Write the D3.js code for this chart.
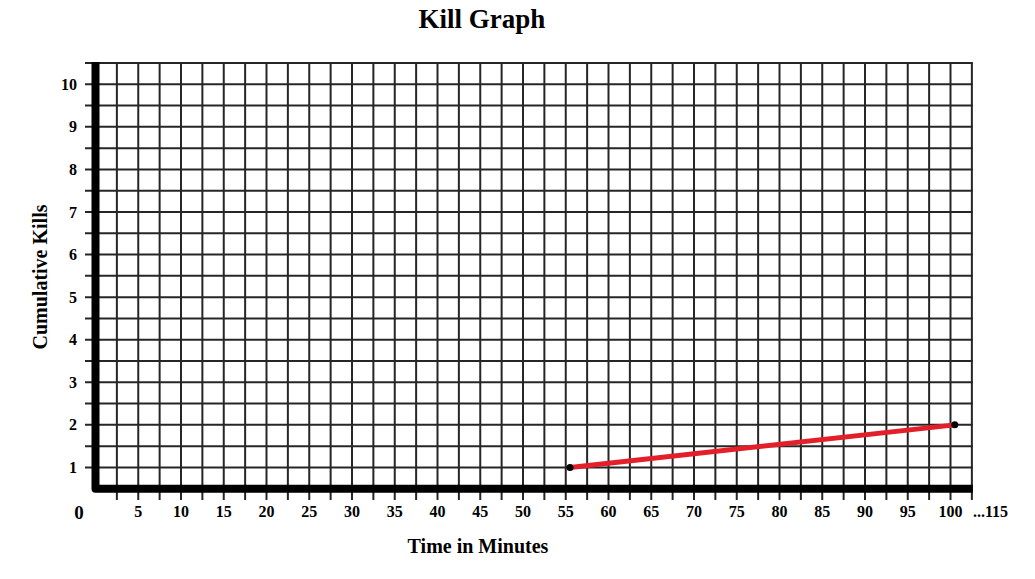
<!DOCTYPE html>
<html>
<head>
<meta charset="utf-8">
<script src="https://cdn.jsdelivr.net/npm/d3@7"></script>
<style>
  html, body { margin: 0; padding: 0; background: #fff; }
  svg text { font-family: "Liberation Serif", "Times New Roman", serif; font-weight: bold; fill: #000; }
</style>
</head>
<body>
<svg id="chart" width="1035" height="579"></svg>
<script>
// Data
const killTimes = [55.5, 100.5];      // minutes
const killCounts = [1, 2];            // cumulative kills
const xTickValues = [5, 10, 15, 20, 25, 30, 35, 40, 45, 50, 55, 60, 65, 70, 75, 80, 85, 90, 95, 100];
const yTickValues = [1, 2, 3, 4, 5, 6, 7, 8, 9, 10];
const xGridValues = d3.range(2.5, 102.6, 2.5);
const yGridValues = d3.range(1, 10.6, 0.5);

const svg = d3.select("#chart");
const x = d3.scaleLinear().domain([0, 100]).range([95.5, 950.5]);
const y = d3.scaleLinear().domain([0, 10]).range([510, 84.3]);

// Title
svg.append("text").attr("x", 482).attr("y", 28).attr("text-anchor", "middle")
  .style("font-size", "27px").text("Kill Graph");

// Grid
const grid = svg.append("g");
grid.selectAll("line.v").data(xGridValues).join("line").attr("class", "v")
  .attr("x1", d => x(d)).attr("x2", d => x(d))
  .attr("y1", y(10.5)).attr("y2", 500)
  .attr("stroke", "#262626").attr("stroke-width", 2);
grid.selectAll("line.h").data(yGridValues).join("line").attr("class", "h")
  .attr("y1", d => y(d)).attr("y2", d => y(d))
  .attr("x1", 85).attr("x2", x(102.5) + 1)
  .attr("stroke", "#262626").attr("stroke-width", 2);

// Axes (thick)
const axisPath = d3.path();
axisPath.moveTo(x(0), y(10.5) - 1);
axisPath.lineTo(x(0), y(0.5));
axisPath.lineTo(x(102.5) + 1, y(0.5));
svg.append("path").attr("d", axisPath.toString()).attr("fill", "none")
  .attr("stroke", "#000").attr("stroke-width", 8).attr("stroke-linejoin", "round");

// Y tick labels
svg.selectAll("text.yt").data(yTickValues).join("text").attr("class", "yt")
  .attr("x", 77).attr("y", d => y(d) + 5.5).attr("text-anchor", "end")
  .style("font-size", "16px").text(d => d);

// X tick labels
svg.selectAll("text.xt").data(xTickValues).join("text").attr("class", "xt")
  .attr("x", d => x(d)).attr("y", 517).attr("text-anchor", "middle")
  .style("font-size", "16px").text(d => d);
svg.append("text").attr("x", 973).attr("y", 517).style("font-size", "16px").text("...115");
svg.append("text").attr("x", 79).attr("y", 519).attr("text-anchor", "middle")
  .style("font-size", "19px").text("0");

// Axis titles
svg.append("text").attr("x", 478).attr("y", 553).attr("text-anchor", "middle")
  .style("font-size", "20px").text("Time in Minutes");
svg.append("text").attr("transform", "translate(46.5,277) rotate(-90)")
  .attr("text-anchor", "middle").style("font-size", "20px").text("Cumulative Kills");

// Data line
const pts = killTimes.map((t, i) => [t, killCounts[i]]);
svg.append("path").datum(pts)
  .attr("d", d3.line().x(d => x(d[0])).y(d => y(d[1])))
  .attr("fill", "none").attr("stroke", "#e3202a").attr("stroke-width", 5);
svg.selectAll("circle.pt").data(pts).join("circle").attr("class", "pt")
  .attr("cx", d => x(d[0])).attr("cy", d => y(d[1])).attr("r", 3.5).attr("fill", "#000");
</script>
</body>
</html>
